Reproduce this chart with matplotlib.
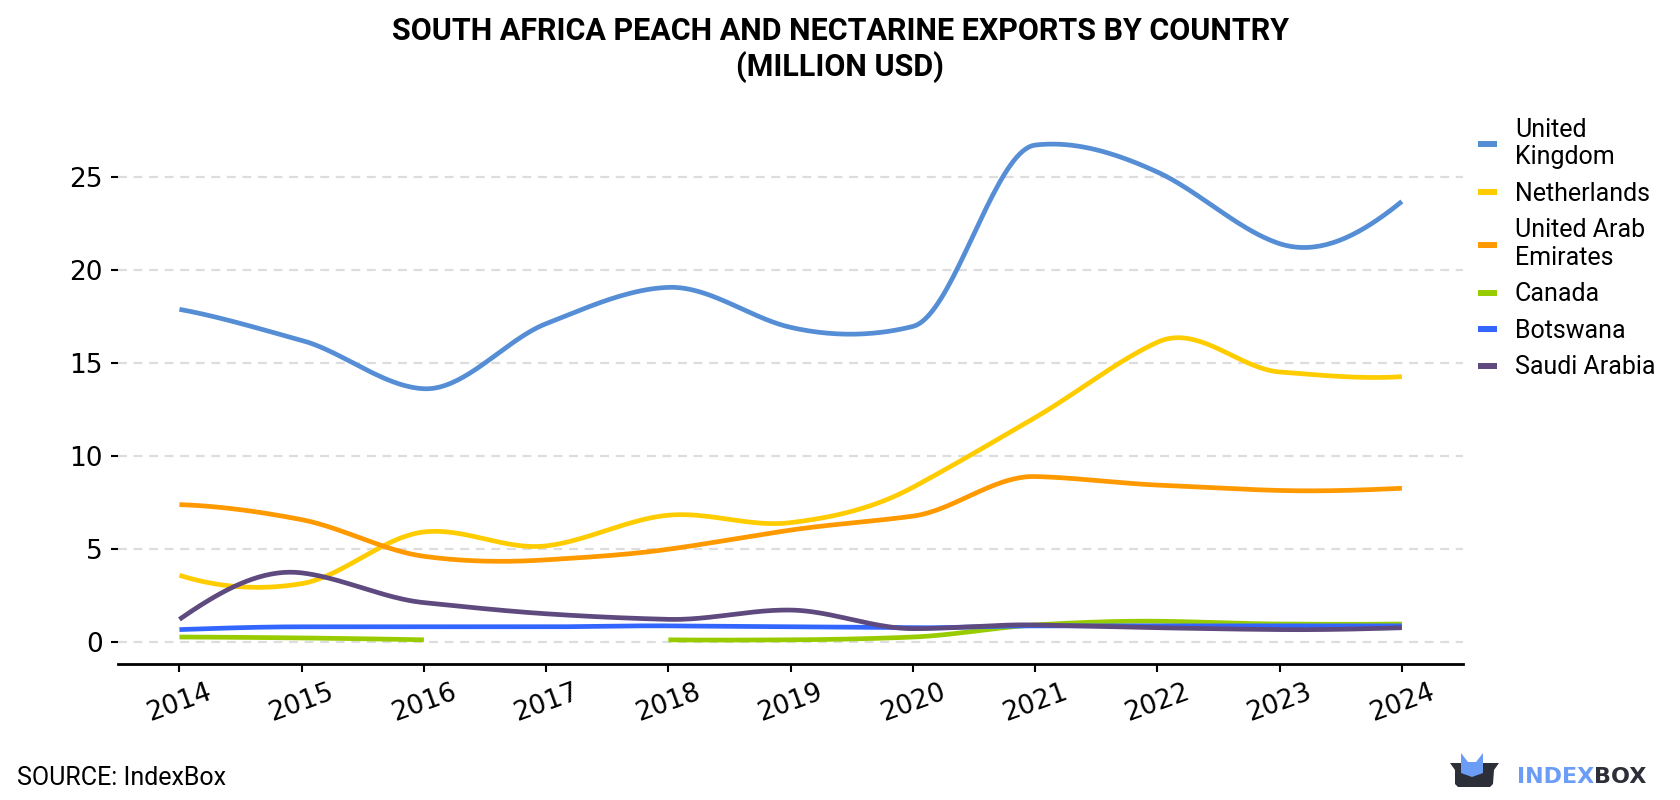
import numpy as np
import matplotlib
matplotlib.use("Agg")
import matplotlib.pyplot as plt
from matplotlib.patches import Polygon

years = [2014, 2015, 2016, 2017, 2018, 2019, 2020, 2021, 2022, 2023, 2024]
united_kingdom = [17.87, 16.2, 13.6, 17.1, 19.05, 16.9, 16.95, 26.7, 25.25, 21.4, 23.67]
netherlands = [3.57, 3.12, 5.9, 5.15, 6.8, 6.4, 8.3, 12.05, 16.1, 14.5, 14.25]
uae = [7.37, 6.56, 4.59, 4.4, 4.97, 6.0, 6.75, 8.88, 8.42, 8.13, 8.25]
canada = [0.25, 0.2, 0.1, np.nan, 0.1, 0.1, 0.25, 0.9, 1.1, 0.95, 0.95]
botswana = [0.65, 0.8, 0.8, 0.8, 0.85, 0.8, 0.75, 0.85, 0.85, 0.85, 0.85]
saudi_arabia = [1.2, 3.7, 2.1, 1.5, 1.2, 1.7, 0.7, 0.9, 0.75, 0.65, 0.75]

series_names = ["United\nKingdom", "Netherlands", "United Arab\nEmirates",
                "Canada", "Botswana", "Saudi Arabia"]
series_values = [united_kingdom, netherlands, uae, canada, botswana, saudi_arabia]
series_colors = ["#558ed5", "#ffcc00", "#ff9900", "#99cc00", "#3366ff", "#5e4a7e"]
y_ticks = [0, 5, 10, 15, 20, 25]


def akima(x, y, n_per=40):
    x = np.asarray(x, float)
    y = np.asarray(y, float)
    k = len(x)
    if k < 3:
        xs = np.linspace(x[0], x[-1], n_per * max(k - 1, 1) + 1)
        return xs, np.interp(xs, x, y)
    m = np.diff(y) / np.diff(x)
    mm = np.concatenate([[3 * m[0] - 2 * m[1], 2 * m[0] - m[1]], m,
                         [2 * m[-1] - m[-2], 3 * m[-1] - 2 * m[-2]]])
    t = np.zeros(k)
    for i in range(k):
        m_im2, m_im1, m_i, m_ip1 = mm[i], mm[i + 1], mm[i + 2], mm[i + 3]
        w1 = abs(m_ip1 - m_i)
        w2 = abs(m_im1 - m_im2)
        if w1 + w2 < 1e-12:
            t[i] = 0.5 * (m_im1 + m_i)
        else:
            t[i] = (w1 * m_im1 + w2 * m_i) / (w1 + w2)
    xs_all, ys_all = [], []
    for i in range(k - 1):
        h = x[i + 1] - x[i]
        s = np.linspace(0, 1, n_per, endpoint=(i == k - 2))
        h00 = 2 * s**3 - 3 * s**2 + 1
        h10 = s**3 - 2 * s**2 + s
        h01 = -2 * s**3 + 3 * s**2
        h11 = s**3 - s**2
        xs_all.append(x[i] + s * h)
        ys_all.append(h00 * y[i] + h10 * h * t[i] + h01 * y[i + 1] + h11 * h * t[i + 1])
    return np.concatenate(xs_all), np.concatenate(ys_all)


plt.rcParams["font.family"] = ["Roboto", "DejaVu Sans"]

W, H = 1680, 800
fig = plt.figure(figsize=(16.8, 8), dpi=100)
ax = fig.add_axes([118.3 / W, 1 - 664 / H, (1463 - 118.3) / W, (664 - 111.6) / H])

for name, vals, col in zip(series_names, series_values, series_colors):
    x = np.array(years, float)
    v = np.array(vals, float)
    segs, cur = [], []
    for xi, vi in zip(x, v):
        if not np.isnan(vi):
            cur.append((xi, vi))
        else:
            if cur:
                segs.append(cur)
            cur = []
    if cur:
        segs.append(cur)
    first = True
    for s in segs:
        sx, sy = zip(*s)
        xs, ys = akima(sx, sy)
        ax.plot(xs, ys, color=col, lw=3.4, solid_capstyle="butt",
                solid_joinstyle="round", label=name if first else None)
        first = False

ax.set_xlim(2013.5, 2024.5)
ax.set_ylim(-1.2, 28.5)
ax.set_xticks(years)
ax.set_xticklabels([str(y) for y in years], rotation=20, ha="center",
                   fontsize=19, family="DejaVu Sans")
ax.set_yticks(y_ticks)
ax.set_yticklabels([str(t) for t in y_ticks], fontsize=19, family="DejaVu Sans")
ax.tick_params(axis="both", length=5, width=1.5, color="black")
ax.tick_params(axis="y", pad=6)
ax.tick_params(axis="x", pad=5, length=6)
for s in ["top", "right", "left"]:
    ax.spines[s].set_visible(False)
ax.spines["bottom"].set_linewidth(2)
ax.grid(axis="y", color="#dddddd", linestyle=(0, (4, 3)), lw=1.6)
ax.set_axisbelow(True)

leg = fig.legend(loc="upper left", bbox_to_anchor=(1478 / W, 1 - 118 / H),
                 frameon=False, fontsize=18, handlelength=0.76, handletextpad=0.72,
                 labelspacing=0.5, borderpad=0, borderaxespad=0)
for line in leg.get_lines():
    line.set_linewidth(4.3)
for txt in leg.get_texts():
    txt.set_linespacing(1.18)

fig.text(0.5, 1 - 16 / H, "SOUTH AFRICA PEACH AND NECTARINE EXPORTS BY COUNTRY\n(MILLION USD)",
         ha="center", va="top", fontsize=22, fontweight="bold", linespacing=1.2)

fig.text(17 / W, 1 - 785 / H, "SOURCE: IndexBox", fontsize=18, ha="left", va="baseline")

# logo
t1 = fig.text(1517 / W, 1 - 783 / H, "INDEX", fontsize=16, fontweight="bold",
              color="#6b9cf6", ha="left", va="baseline", family="DejaVu Sans")
fig.canvas.draw()
bb = t1.get_window_extent()
fig.text(bb.x1 / W, 1 - 783 / H, "BOX", fontsize=16, fontweight="bold",
         color="#2c2e38", ha="left", va="baseline", family="DejaVu Sans")


def P(pts):
    return [[px, H - py] for px, py in pts]


fig.patches.append(Polygon(P([[1461, 773], [1461, 753], [1468, 762], [1476, 762],
                              [1483, 753], [1483, 773]]),
                           closed=True, transform=None, facecolor="#6b9cf6",
                           edgecolor="none", zorder=1))
fig.patches.append(Polygon(P([[1450, 763], [1499, 763], [1494, 770], [1493, 784],
                              [1490, 787], [1458, 787], [1455, 784], [1455, 770]]),
                           closed=True, transform=None, facecolor="#2c2e38",
                           edgecolor="none", zorder=2))
fig.patches.append(Polygon(P([[1461, 763], [1483, 763], [1483, 773], [1472, 777],
                              [1461, 773]]),
                           closed=True, transform=None, facecolor="#6b9cf6",
                           edgecolor="none", zorder=3))

fig.savefig("out.png", dpi=100)
